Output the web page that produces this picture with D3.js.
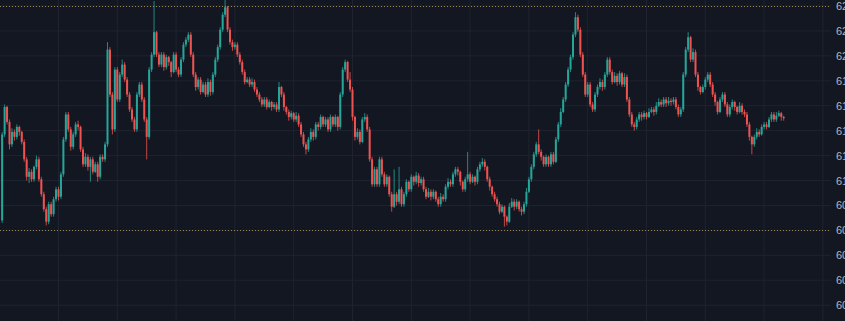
<!DOCTYPE html>
<html>
<head>
<meta charset="utf-8">
<script src="https://cdn.jsdelivr.net/npm/d3@7"></script>
<style>
  html, body { margin: 0; padding: 0; background: #131722; overflow: hidden; }
  svg { display: block; }
  .tick text { fill: #b2b5be; font-family: "Liberation Sans", Arial, sans-serif; font-size: 11px; }
</style>
</head>
<body>
<div id="chart"></div>
<script>
// price levels shown on the right scale
var priceTicks = [60.0, 60.2, 60.4, 60.6, 60.8, 61.0, 61.2, 61.4, 61.6, 61.8, 62.0, 62.2, 62.4];
// dotted price lines (session high / low)
var priceLines = [62.40, 60.60];

var firstOpen = 60.68;
var closes = [
61.37,61.59,61.47,61.29,61.39,61.35,61.43,61.39,61.31,61.17,61.03,61.07,61.01,61.11,61.17,61.01,60.89,60.77,60.67,60.81,
60.73,60.85,60.93,60.87,61.05,61.33,61.53,61.41,61.27,61.37,61.45,61.43,61.25,61.13,61.19,61.11,61.17,61.07,61.13,61.03,
61.19,61.17,61.29,62.05,61.69,61.41,61.89,61.65,61.85,61.93,61.81,61.69,61.57,61.49,61.41,61.69,61.77,61.65,61.49,61.35,
61.89,62.01,62.19,62.01,61.93,62.01,61.91,61.99,61.95,61.87,62.01,61.89,61.85,61.97,62.09,62.13,62.17,62.01,61.85,61.75,
61.81,61.71,61.77,61.69,61.79,61.71,61.85,61.97,62.07,62.21,62.33,62.39,62.21,62.11,62.07,62.09,62.01,61.95,61.87,61.79,
61.81,61.77,61.79,61.73,61.69,61.65,61.61,61.65,61.59,61.63,61.59,61.61,61.57,61.75,61.69,61.59,61.55,61.51,61.54,61.49,
61.52,61.45,61.37,61.29,61.25,61.33,61.39,61.35,61.45,61.43,61.51,61.45,61.49,61.41,61.51,61.45,61.51,61.43,61.69,61.89,
61.95,61.81,61.73,61.51,61.35,61.39,61.31,61.49,61.51,61.41,61.17,60.97,61.09,60.97,61.17,61.05,60.97,61.03,60.89,60.79,
60.89,60.83,60.93,60.81,60.89,60.99,60.93,61.03,60.99,61.04,60.98,61.01,60.93,60.87,60.91,60.87,60.91,60.85,60.81,60.87,
60.85,60.95,60.99,60.97,61.05,61.09,61.07,60.99,60.93,61.01,61.05,60.99,61.03,60.99,61.09,61.13,61.15,61.11,61.01,60.95,
60.89,60.85,60.81,60.75,60.79,60.71,60.67,60.79,60.83,60.79,60.83,60.77,60.75,60.81,60.91,61.01,61.11,61.21,61.29,61.23,
61.19,61.13,61.19,61.13,61.21,61.15,61.33,61.45,61.55,61.65,61.77,61.89,61.99,62.17,62.31,62.21,62.01,61.85,61.69,61.77,
61.61,61.57,61.69,61.75,61.79,61.75,61.85,61.97,61.87,61.79,61.84,61.79,61.86,61.77,61.83,61.65,61.53,61.45,61.43,61.49,
61.53,61.51,61.54,61.51,61.55,61.57,61.55,61.60,61.63,61.61,61.65,61.62,61.64,61.63,61.65,61.59,61.53,61.57,61.85,62.05,
62.15,61.97,62.03,61.85,61.75,61.71,61.75,61.81,61.85,61.77,61.69,61.63,61.55,61.65,61.69,61.61,61.53,61.59,61.63,61.59,
61.55,61.60,61.55,61.53,61.45,61.35,61.29,61.35,61.39,61.37,61.43,61.45,61.43,61.49,61.53,61.49,61.52,61.54,61.51,61.50
];
var highs = [
61.39,61.61,61.60,61.49,61.42,61.41,61.45,61.44,61.40,61.33,61.19,61.10,61.09,61.12,61.20,61.19,61.03,60.91,60.79,60.83,
60.83,60.87,60.95,60.95,61.07,61.35,61.55,61.55,61.43,61.39,61.47,61.48,61.44,61.27,61.22,61.21,61.19,61.19,61.15,61.15,
61.21,61.21,61.31,62.11,62.07,61.71,61.91,61.91,61.87,61.97,61.95,61.83,61.71,61.59,61.51,61.71,61.79,61.79,61.67,61.51,
61.91,62.03,62.44,62.20,62.03,62.03,62.03,62.01,62.00,61.96,62.03,62.03,61.91,61.99,62.11,62.15,62.19,62.19,62.03,61.87,
61.83,61.83,61.79,61.79,61.82,61.81,61.87,61.99,62.09,62.23,62.35,62.45,62.40,62.23,62.13,62.11,62.11,62.03,61.97,61.89,
61.83,61.83,61.82,61.81,61.75,61.71,61.67,61.67,61.67,61.65,61.64,61.63,61.63,61.79,61.76,61.71,61.60,61.57,61.56,61.55,
61.55,61.54,61.47,61.39,61.31,61.35,61.42,61.41,61.47,61.47,61.53,61.52,61.51,61.51,61.53,61.52,61.53,61.52,61.71,61.91,
61.97,61.96,61.87,61.75,61.52,61.42,61.41,61.51,61.54,61.53,61.43,61.19,61.11,61.11,61.19,61.19,61.07,61.05,61.04,60.91,
61.09,60.91,61.11,60.95,60.91,61.01,61.00,61.05,61.04,61.07,61.06,61.03,61.03,60.95,60.94,60.93,60.93,60.92,60.87,60.90,
60.89,60.97,61.02,61.01,61.07,61.11,61.11,61.08,61.00,61.03,61.23,61.07,61.05,61.04,61.11,61.15,61.18,61.17,61.12,61.03,
60.96,60.91,60.87,60.83,60.81,60.80,60.72,60.82,60.86,60.85,60.85,60.84,60.79,60.83,60.94,61.03,61.13,61.23,61.31,61.41,
61.25,61.20,61.21,61.20,61.23,61.23,61.35,61.47,61.58,61.67,61.79,61.91,62.01,62.19,62.35,62.33,62.23,62.03,61.87,61.79,
61.79,61.63,61.71,61.77,61.82,61.81,61.87,61.99,61.99,61.89,61.87,61.86,61.88,61.87,61.86,61.85,61.67,61.55,61.47,61.51,
61.55,61.55,61.56,61.55,61.58,61.59,61.59,61.63,61.66,61.65,61.67,61.67,61.67,61.66,61.67,61.67,61.61,61.59,61.87,62.07,
62.19,62.16,62.06,62.05,61.87,61.76,61.77,61.83,61.87,61.87,61.79,61.71,61.64,61.67,61.71,61.71,61.63,61.61,61.65,61.64,
61.60,61.63,61.62,61.57,61.55,61.47,61.36,61.37,61.42,61.41,61.45,61.47,61.47,61.51,61.55,61.55,61.55,61.56,61.55,61.52
];
var lows = [
60.66,61.35,61.45,61.25,61.27,61.32,61.33,61.36,61.29,61.15,61.00,60.98,60.99,60.99,61.09,60.99,60.87,60.75,60.64,60.65,
60.71,60.71,60.83,60.84,60.85,61.03,61.31,61.39,61.24,61.25,61.35,61.40,61.23,61.11,61.11,61.08,60.99,61.05,61.06,60.99,
61.01,61.15,61.15,61.27,61.67,61.37,61.39,61.63,61.63,61.83,61.79,61.67,61.55,61.47,61.39,61.39,61.67,61.63,61.47,61.17,
61.33,61.87,61.99,61.99,61.91,61.91,61.88,61.89,61.92,61.83,61.86,61.87,61.83,61.83,61.95,62.07,62.11,61.99,61.83,61.72,
61.73,61.69,61.70,61.67,61.67,61.68,61.69,61.83,61.95,62.05,62.19,62.31,62.19,62.09,62.04,62.05,61.99,61.93,61.85,61.77,
61.78,61.75,61.75,61.71,61.67,61.63,61.59,61.59,61.57,61.58,61.56,61.57,61.55,61.55,61.67,61.56,61.53,61.48,61.49,61.47,
61.47,61.43,61.35,61.27,61.21,61.23,61.31,61.32,61.33,61.40,61.41,61.43,61.43,61.39,61.39,61.43,61.43,61.40,61.41,61.67,
61.87,61.79,61.71,61.48,61.32,61.33,61.29,61.30,61.47,61.39,61.15,60.95,60.95,60.95,60.95,61.03,60.95,60.95,60.87,60.75,
60.78,60.80,60.81,60.79,60.79,60.87,60.91,60.91,60.96,60.97,60.95,60.96,60.91,60.85,60.86,60.84,60.85,60.83,60.79,60.79,
60.83,60.83,60.93,60.95,60.95,61.03,61.04,60.96,60.91,60.91,60.99,60.97,60.98,60.96,60.97,61.07,61.11,61.08,60.99,60.92,
60.87,60.83,60.79,60.73,60.74,60.63,60.64,60.66,60.78,60.76,60.77,60.75,60.72,60.73,60.79,60.90,60.99,61.09,61.19,61.21,
61.16,61.11,61.11,61.11,61.11,61.13,61.14,61.31,61.43,61.54,61.63,61.75,61.87,61.97,62.15,62.19,61.99,61.83,61.67,61.67,
61.59,61.55,61.55,61.67,61.73,61.72,61.73,61.83,61.85,61.77,61.78,61.76,61.77,61.75,61.75,61.63,61.51,61.43,61.40,61.41,
61.47,61.48,61.49,61.49,61.50,61.54,61.52,61.53,61.59,61.59,61.59,61.59,61.60,61.60,61.61,61.57,61.51,61.51,61.55,61.83,
62.03,61.95,61.95,61.83,61.72,61.69,61.70,61.73,61.79,61.75,61.67,61.60,61.53,61.54,61.63,61.59,61.51,61.51,61.57,61.56,
61.53,61.54,61.53,61.51,61.43,61.32,61.21,61.27,61.33,61.35,61.36,61.41,61.41,61.42,61.47,61.47,61.47,61.51,61.48,61.48
];

var width = 845, height = 321;
var plotRight = 831;
var upColor = "#26a69a", downColor = "#ef5350";

var candles = closes.map(function(c, i) {
    return {
        i: i,
        open: i === 0 ? firstOpen : closes[i - 1],
        high: highs[i],
        low: lows[i],
        close: c
    };
});

var x = d3.scaleLinear()
    .domain([0, candles.length - 1])
    .range([2.15, 2.15 + 2.45 * (candles.length - 1)]);

var y = d3.scaleLinear()
    .domain([60.0, 62.4])
    .range([305.2, 6]);

var svg = d3.select("#chart").append("svg")
    .attr("width", width)
    .attr("height", height);

svg.append("rect")
    .attr("width", width)
    .attr("height", height)
    .attr("fill", "#131722");

// grid
var grid = svg.append("g").attr("class", "grid");
var vTicks = d3.range(23, 400, 24).filter(function(i) { return x(i) < plotRight; });
grid.selectAll(".vline")
    .data(vTicks)
    .enter().append("line")
    .attr("x1", function(d) { return x(d); })
    .attr("x2", function(d) { return x(d); })
    .attr("y1", 0)
    .attr("y2", height)
    .attr("stroke", "#1f2330")
    .attr("stroke-width", 1);

grid.selectAll(".hline")
    .data(priceTicks)
    .enter().append("line")
    .attr("x1", 0)
    .attr("x2", plotRight)
    .attr("y1", function(d) { return y(d); })
    .attr("y2", function(d) { return y(d); })
    .attr("stroke", "#1f2330")
    .attr("stroke-width", 1);

// candles
var candleG = svg.append("g").attr("class", "candles");
var c = candleG.selectAll(".candle")
    .data(candles)
    .enter().append("g")
    .attr("class", "candle")
    .attr("fill", function(d) { return d.close >= d.open ? upColor : downColor; })
    .attr("stroke", function(d) { return d.close >= d.open ? upColor : downColor; });

c.append("line")
    .attr("x1", function(d) { return x(d.i); })
    .attr("x2", function(d) { return x(d.i); })
    .attr("y1", function(d) { return y(d.high); })
    .attr("y2", function(d) { return y(d.low); })
    .attr("stroke-width", 0.8);

c.append("rect")
    .attr("x", function(d) { return x(d.i) - 1; })
    .attr("width", 2)
    .attr("y", function(d) { return y(Math.max(d.open, d.close)); })
    .attr("height", function(d) { return Math.max(1, Math.abs(y(d.open) - y(d.close))); })
    .attr("stroke", "none");

// dotted price lines
svg.selectAll(".pline")
    .data(priceLines)
    .enter().append("line")
    .attr("class", "pline")
    .attr("x1", 0)
    .attr("x2", plotRight)
    .attr("y1", function(d) { return Math.round(y(d)) + 0.5; })
    .attr("y2", function(d) { return Math.round(y(d)) + 0.5; })
    .attr("stroke", "#9c8550")
    .attr("stroke-width", 1)
    .attr("stroke-dasharray", "1,2");

// right price scale
var axis = d3.axisRight(y)
    .tickValues(priceTicks)
    .tickFormat(d3.format(".2f"))
    .tickSize(0)
    .tickPadding(5);

svg.append("g")
    .attr("transform", "translate(" + plotRight + ",0)")
    .call(axis)
    .call(function(g) { g.select(".domain").remove(); });
</script>
</body>
</html>
